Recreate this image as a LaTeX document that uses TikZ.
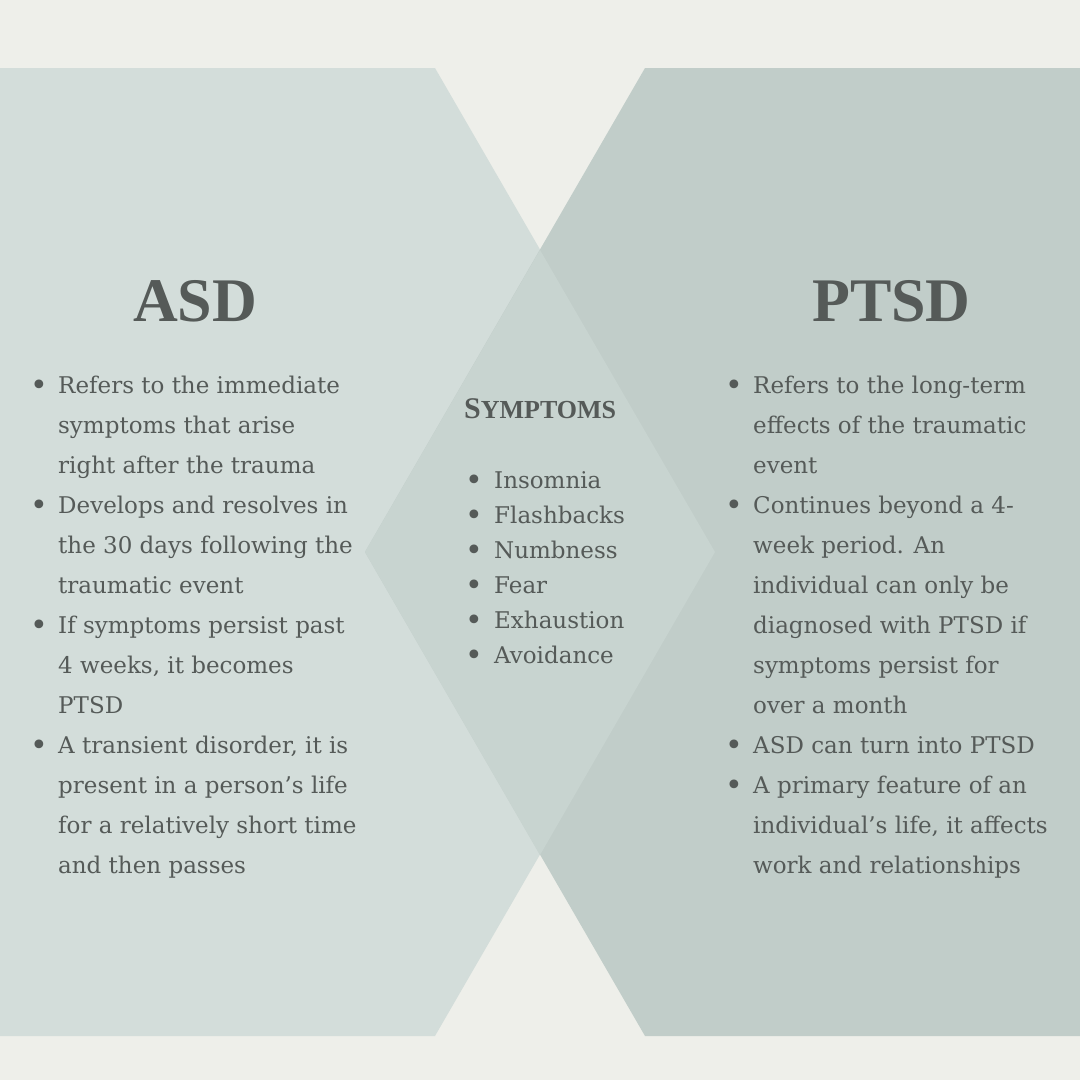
\documentclass[tikz,border=0pt]{standalone}
\usepackage{fontspec}
\setmainfont{DejaVu Serif}
\newfontfamily\headfont{Liberation Serif}

\definecolor{paper}{HTML}{EEEFEA}
\definecolor{asdfill}{HTML}{D3DDDA}
\definecolor{ptsdfill}{HTML}{C1CDC9}
\definecolor{bothfill}{HTML}{C8D4D0}
\definecolor{ink}{HTML}{555A58}

\tikzset{
  listtext/.style={anchor=north west, inner sep=0pt, text=ink, align=left,
    font=\fontsize{23}{40}\selectfont},
  midtext/.style={listtext, font=\fontsize{23}{35}\selectfont},
  headtext/.style={anchor=base west, inner sep=0pt, text=ink,
    font=\headfont\bfseries\fontsize{62}{62}\selectfont},
}
\newcommand\bul{\raisebox{-2pt}{\fontsize{30}{30}\selectfont\textbullet}}

\begin{document}
\begin{tikzpicture}[x=1pt, y=-1pt]
  % --- background and the two hexagon panels (pixel coords, y down) ---
  \fill[paper] (0,0) rectangle (1080,1080);
  \useasboundingbox (0,0) rectangle (1080,1080);
  \fill[asdfill] (0,68) -- (435,68) -- (715,552) -- (435,1036) -- (0,1036) -- cycle;
  \fill[ptsdfill] (645,68) -- (1080,68) -- (1080,1036) -- (645,1036) -- (365,552) -- cycle;
  \fill[bothfill] (540,250) -- (715,552) -- (540,855) -- (365,552) -- cycle; % overlap
  % --- headings ---
  \node[headtext] (asd) at (133,321) {ASD};
  \node[headtext] (ptsd) at (812,321) {PTSD};
  \node[headtext, font=\headfont\bfseries] (symp) at (464,418)
    {\fontsize{30}{30}\selectfont S\fontsize{26}{26}\selectfont YMPTOMS};
  % --- ASD list ---
  \node[listtext] (asdlist) at (30,365) {%
    \begin{tabular}{@{}p{28pt}@{}l@{}}
      \bul & Refers to the immediate\\
           & symptoms that arise\\
           & right after the trauma\\
      \bul & Develops and resolves in\\
           & the 30 days following the\\
           & traumatic event\\
      \bul & If symptoms persist past\\
           & 4 weeks, it becomes\\
           & PTSD\\
      \bul & A transient disorder, it is\\
           & present in a person’s life\\
           & for a relatively short time\\
           & and then passes
    \end{tabular}};
  % --- shared symptoms ---
  \node[midtext] (midlist) at (465,463.5) {%
    \begin{tabular}{@{}p{29pt}@{}l@{}}
      \bul & Insomnia\\
      \bul & Flashbacks\\
      \bul & Numbness\\
      \bul & Fear\\
      \bul & Exhaustion\\
      \bul & Avoidance
    \end{tabular}};
  % --- PTSD list ---
  \node[listtext] (ptsdlist) at (725,365) {%
    \begin{tabular}{@{}p{28pt}@{}l@{}}
      \bul & Refers to the long-term\\
           & effects of the traumatic\\
           & event\\
      \bul & Continues beyond a 4-\\
           & week period. An\\
           & individual can only be\\
           & diagnosed with PTSD if\\
           & symptoms persist for\\
           & over a month\\
      \bul & ASD can turn into PTSD\\
      \bul & A primary feature of an\\
           & individual’s life, it affects\\
           & work and relationships
    \end{tabular}};
\end{tikzpicture}
\end{document}
